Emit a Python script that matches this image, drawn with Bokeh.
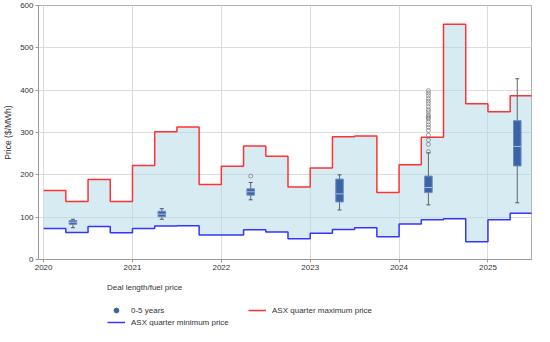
from bokeh.plotting import figure
from bokeh.layouts import column
from bokeh.models import Range1d, FixedTicker, Legend, LegendItem
from bokeh.embed import file_html
from bokeh.resources import INLINE
import numpy as np

# ---- data ----
quarter_start = [2020.0, 2020.25, 2020.5, 2020.75,
                 2021.0, 2021.25, 2021.5, 2021.75,
                 2022.0, 2022.25, 2022.5, 2022.75,
                 2023.0, 2023.25, 2023.5, 2023.75,
                 2024.0, 2024.25, 2024.5, 2024.75,
                 2025.0, 2025.25]
period_end = 2025.5
max_price = [163, 137, 189, 137,
             222, 302, 313, 177,
             220, 268, 244, 171,
             216, 290, 292, 158,
             224, 289, 556, 368,
             349, 387]
min_price = [73, 64, 78, 63,
             73, 79, 80, 58,
             58, 70, 65, 49,
             62, 71, 75, 54,
             84, 94, 96, 42,
             94, 109]

box_x = [2020.33, 2021.33, 2022.33, 2023.33, 2024.33, 2025.33]
whisker_lo = [75, 95, 141, 117, 129, 134]
q1 = [83, 101, 152, 136, 158, 221]
median = [88, 107, 160, 155, 170, 267]
q3 = [92, 114, 167, 190, 197, 328]
whisker_hi = [95, 120, 182, 200, 252, 427]

outlier_x = [2022.33] + [2024.33] * 21
outlier_y = [197,
             255, 272, 282, 294, 305, 312, 318, 325, 332, 335, 338,
             342, 349, 354, 361, 368, 374, 380, 387, 393, 399]

year_ticks = [2020, 2021, 2022, 2023, 2024, 2025]
price_ticks = [0, 100, 200, 300, 400, 500, 600]

FONT = "Liberation Sans"
BOX = "#3b64a6"
RED = "#ff3333"
BLUE = "#3535ff"

# step arrays (last value held to end of period)
xs = np.array(quarter_start + [period_end])
ymax = np.array(max_price + [max_price[-1]])
ymin = np.array(min_price + [min_price[-1]])

p = figure(width=534, height=272, output_backend="svg", toolbar_location=None,
           x_range=Range1d(2019.9425, 2025.49), y_range=Range1d(0, 600),
           min_border_left=10, min_border_top=5, min_border_right=3,
           min_border_bottom=0)

p.outline_line_color = "#b0b0b0"
p.background_fill_color = "white"
p.border_fill_color = "white"

# fill between min and max
p.varea_step(x=xs, y1=ymin, y2=ymax, step_mode="after",
             fill_color="#add8e6", fill_alpha=0.5)

p.step(xs, ymax, mode="after", line_color=RED, line_width=1.5)
p.step(xs, ymin, mode="after", line_color=BLUE, line_width=1.5)

# box plots
bx = np.array(box_x)
box_w = 0.085
cap_w = 0.045
p.segment(x0=bx, y0=whisker_lo, x1=bx, y1=q1, line_color="#666666", line_width=1)
p.segment(x0=bx, y0=q3, x1=bx, y1=whisker_hi, line_color="#666666", line_width=1)
p.segment(x0=bx - cap_w / 2, y0=whisker_lo, x1=bx + cap_w / 2, y1=whisker_lo,
          line_color="#555555", line_width=1)
p.segment(x0=bx - cap_w / 2, y0=whisker_hi, x1=bx + cap_w / 2, y1=whisker_hi,
          line_color="#555555", line_width=1)
p.vbar(x=bx, width=box_w, bottom=q1, top=q3, fill_color=BOX,
       line_color="#6d8cc2", line_width=1)
p.segment(x0=bx - box_w / 2, y0=median, x1=bx + box_w / 2, y1=median,
          line_color="#a9bde0", line_width=1)
p.scatter(x=outlier_x, y=outlier_y, marker="circle", size=4,
          fill_color=None, line_color="#777777", line_width=0.7)

# axes
p.xaxis.ticker = FixedTicker(ticks=year_ticks)
p.yaxis.ticker = FixedTicker(ticks=price_ticks)
for ax in (p.xaxis[0], p.yaxis[0]):
    ax.major_label_text_font = FONT
    ax.major_label_text_font_size = "8px"
    ax.major_label_text_color = "#333333"
    ax.axis_line_color = "#999999"
    ax.major_tick_line_color = "#999999"
    ax.major_tick_out = 3
    ax.major_tick_in = 0
    ax.minor_tick_line_color = None
    ax.major_label_standoff = 2
p.yaxis.axis_label = "Price ($/MWh)"
p.yaxis.axis_label_text_font = FONT
p.yaxis.axis_label_text_font_size = "8.5px"
p.yaxis.axis_label_text_font_style = "normal"
p.yaxis.axis_label_text_color = "#333333"
p.yaxis.axis_label_standoff = 4

p.xgrid.grid_line_color = "#dcdcdc"
p.ygrid.grid_line_color = "#dcdcdc"

# ---- legend panel (separate strip below the chart) ----
lg = figure(width=534, height=54, output_backend="svg", toolbar_location=None,
            x_axis_type=None, y_axis_type=None,
            x_range=Range1d(0, 1), y_range=Range1d(0, 1),
            min_border=0, min_border_top=0, min_border_bottom=0,
            min_border_left=0, min_border_right=0)
lg.outline_line_color = None
lg.xgrid.visible = False
lg.ygrid.visible = False
# legend-only renderers: their points lie outside the strip's visible range
lr_box = lg.scatter(x=[-5], y=[-5], marker="circle", size=10, fill_color=BOX,
                    line_color=BOX)
lr_max = lg.line(x=[-5, -4], y=[-5, -4], line_color=RED, line_width=1.5)
lr_min = lg.line(x=[-5, -4], y=[-5, -4], line_color=BLUE, line_width=1.5)

legend = Legend(items=[
    LegendItem(label="0-5 years", renderers=[lr_box]),
    LegendItem(label="ASX quarter maximum price", renderers=[lr_max]),
    LegendItem(label="ASX quarter minimum price", renderers=[lr_min]),
], orientation="horizontal", ncols=2, location=(69, -2))
legend.title = "Deal length/fuel price"
legend.title_text_font = FONT
legend.title_text_font_size = "8px"
legend.title_text_font_style = "normal"
legend.title_text_color = "#333333"
legend.title_standoff = 12
legend.label_text_font = FONT
legend.label_text_font_size = "8px"
legend.label_text_color = "#333333"
legend.label_height = 12
legend.glyph_height = 12
legend.glyph_width = 18
legend.label_standoff = 6
legend.label_width = 117
legend.spacing = 0
legend.padding = 0
legend.margin = 0
legend.border_line_color = None
legend.background_fill_alpha = 0
lg.add_layout(legend, "center")

layout = column(p, lg, spacing=0)

open("out.html", "w").write(file_html(layout, INLINE))
